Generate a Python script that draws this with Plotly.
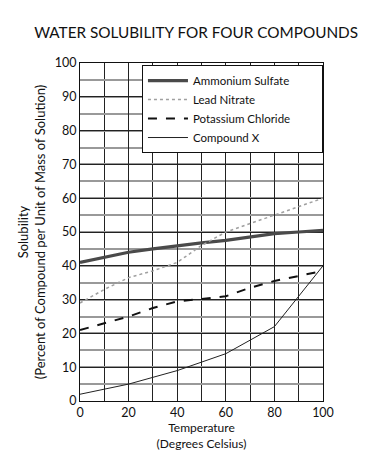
import plotly.graph_objects as go

temps = [0, 10, 20, 30, 40, 50, 60, 70, 80, 90, 100]
ammonium_sulfate = [41, 42.5, 44, 45, 46, 46.8, 47.5, 48.5, 49.5, 50, 50.5]
lead_nitrate = [29, 33, 36.5, 38.5, 41, 46, 50, 52.5, 55, 57.5, 60]
potassium_chloride = [21, 23, 25, 27.5, 29.5, 30.2, 31, 33.5, 35.5, 37, 38.5]
compound_x = [2, 3.5, 5, 7, 9, 11.5, 14, 18, 22, 31, 40]

x_ticks = [0, 20, 40, 60, 80, 100]
y_ticks = [0, 10, 20, 30, 40, 50, 60, 70, 80, 90, 100]

FONT = "Lato"
PAD = "\u00a0" * 9

fig = go.Figure()
fig.add_trace(go.Scatter(x=temps, y=ammonium_sulfate, mode="lines", name="Ammonium Sulfate",
                         line=dict(color="#4a4a4a", width=3.2)))
fig.add_trace(go.Scatter(x=temps, y=lead_nitrate, mode="lines", name="Lead Nitrate",
                         line=dict(color="#a0a0a0", width=1.5, dash="dot")))
fig.add_trace(go.Scatter(x=temps, y=potassium_chloride, mode="lines", name="Potassium Chloride" + PAD,
                         line=dict(color="#111111", width=2, dash="dash")))
fig.add_trace(go.Scatter(x=temps, y=compound_x, mode="lines", name="Compound X",
                         line=dict(color="#222222", width=1)))

fig.update_layout(
    width=370, height=466,
    margin=dict(l=80, r=47, t=63, b=65),
    paper_bgcolor="white", plot_bgcolor="white",
    font=dict(family=FONT, color="#111", size=11),
    title=dict(text="WATER SOLUBILITY FOR FOUR COMPOUNDS", x=0.53, xanchor="center",
               y=0.931, yanchor="middle", font=dict(size=15.3, family=FONT, color="#111")),
    legend=dict(x=0.255, y=0.994, xanchor="left", yanchor="top",
                bgcolor="white", bordercolor="#111", borderwidth=1,
                font=dict(size=11.5, family=FONT), tracegroupgap=0, itemwidth=40),
    showlegend=True,
)
fig.update_xaxes(range=[0, 100], tickmode="array", tickvals=x_ticks, ticks="", showgrid=True,
                 gridcolor="#222", gridwidth=1.2,
                 minor=dict(dtick=10, tick0=0, showgrid=True, gridcolor="#222", gridwidth=1.2),
                 showline=True, linecolor="#111", linewidth=1.2, mirror=True,
                 zeroline=False, tickfont=dict(size=12.5),
                 title=dict(text="Temperature<br>(Degrees Celsius)", font=dict(size=12), standoff=2))
fig.update_yaxes(range=[0, 100], tickvals=y_ticks, ticks="", showgrid=True,
                 gridcolor="#222", gridwidth=1.2,
                 minor=dict(dtick=5, tick0=0, showgrid=True, gridcolor="#999", gridwidth=1.5),
                 showline=True, linecolor="#111", linewidth=1.2, mirror=True,
                 zeroline=False, tickfont=dict(size=12.5),
                 title=dict(text="Solubility<br>(Percent of Compound per Unit of Mass of Solution)",
                            font=dict(size=13), standoff=6))

fig.write_html("out.html", config={"displayModeBar": False},
               post_script="document.body.style.margin='0';document.body.style.overflow='hidden';")
